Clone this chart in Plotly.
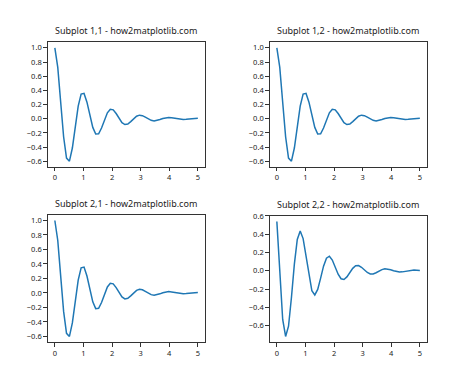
import plotly.graph_objects as go

x_vals = [i * 5 / 49 for i in range(50)]

y_damped = [1.0, 0.7237, 0.2320, -0.2543, -0.5565, -0.5992, -0.4136, -0.1089, 0.1786, 0.3479,
            0.3575, 0.2338, 0.0469, -0.1229, -0.2160, -0.2125, -0.1317, -0.0169, 0.0828, 0.1332,
            0.1257, 0.0731, 0.0034, -0.0547, -0.0821, -0.0741, -0.0403, 0.0020, 0.0358, 0.0502,
            0.0434, 0.0219, -0.0037, -0.0232, -0.0306, -0.0253, -0.0118, 0.0037, 0.0149, 0.0185,
            0.0147, 0.0061, -0.0031, -0.0095, -0.0112, -0.0085, -0.0032, 0.0024, 0.0060, 0.0067]

y_shifted = [0.5403, -0.0635, -0.5325, -0.7187, -0.6066, -0.2923, 0.0726, 0.3428, 0.4367, 0.3527,
             0.1544, -0.0641, -0.2190, -0.2644, -0.2037, -0.0799, 0.0507, 0.1387, 0.1593, 0.1175,
             0.0402, -0.0377, -0.0873, -0.0955, -0.0673, -0.0193, 0.0268, 0.0547, 0.0571, 0.0382,
             0.0087, -0.0186, -0.0340, -0.0341, -0.0215, -0.0034, 0.0126, 0.0210, 0.0202, 0.0120,
             0.0010, -0.0084, -0.0130, -0.0119, -0.0067, 0.0001, 0.0055, 0.0080, 0.0070, 0.0036]

titles = ["Subplot 1,1 - how2matplotlib.com", "Subplot 1,2 - how2matplotlib.com",
          "Subplot 2,1 - how2matplotlib.com", "Subplot 2,2 - how2matplotlib.com"]
series = [y_damped, y_damped, y_damped, y_shifted]

W, H = 474, 379
# pixel boxes (left, right, top, bottom)
boxes = [(47.7, 205, 37.7, 164), (269.7, 427, 37.7, 164),
         (47.7, 205, 212.5, 341.7), (269.7, 427, 213.5, 341.7)]

FONT = "Noto Sans"
fig = go.Figure()
for k, (ys, title, (l, r, t, b)) in enumerate(zip(series, titles, boxes)):
    n = "" if k == 0 else str(k + 1)
    fig.add_trace(go.Scatter(x=x_vals, y=ys, mode="lines",
                             line=dict(color="#1f77b4", width=1.5),
                             xaxis="x" + n, yaxis="y" + n, showlegend=False))
    ymin, ymax = min(ys), max(ys)
    pad = (ymax - ymin) * 0.05
    common = dict(showgrid=False, zeroline=False, showline=True, linecolor="#333333",
                  linewidth=1, mirror=True, ticks="outside", ticklen=3.5, tickwidth=0.8,
                  tickcolor="#333333", tickfont=dict(family=FONT, size=7.5, color="#222222"))
    fig.update_layout(**{
        "xaxis" + n: dict(domain=[l / W, r / W], anchor="y" + n, range=[-0.25, 5.25],
                          tickmode="array", tickvals=[0, 1, 2, 3, 4, 5], **common),
        "yaxis" + n: dict(domain=[1 - b / H, 1 - t / H], anchor="x" + n,
                          range=[ymin - pad, ymax + pad], dtick=0.2, tick0=0,
                          tickformat=".1f", **common),
    })
    fig.add_annotation(text=title, x=(l + r) / 2 / W, y=1 - (t - 3) / H, xref="paper", yref="paper",
                       xanchor="center", yanchor="bottom", showarrow=False,
                       font=dict(family=FONT, size=9, color="#222222"))

fig.update_layout(width=W, height=H, margin=dict(l=0, r=0, t=0, b=0),
                  paper_bgcolor="white", plot_bgcolor="white")
fig.write_html("out.html")
